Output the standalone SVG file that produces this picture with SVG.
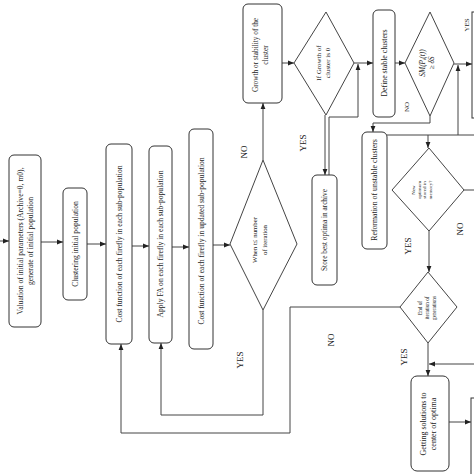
<svg xmlns="http://www.w3.org/2000/svg" width="474" height="474" viewBox="0 0 474 474">
<defs>
<marker id="ah" viewBox="0 0 10 10" refX="10" refY="5" markerWidth="6" markerHeight="6" markerUnits="userSpaceOnUse" orient="auto"><path d="M0,1 L10,5 L0,9 z" fill="#222"/></marker>
<style>
.box{fill:#fff;stroke:#333;stroke-width:1}
.dia{fill:#fff;stroke:#444;stroke-width:1}
.ln{fill:none;stroke:#444;stroke-width:1}
.ar{fill:none;stroke:#444;stroke-width:1;marker-end:url(#ah)}
.t{font-family:"Liberation Serif","Times New Roman",serif;fill:#222;text-anchor:middle}
.lbl{font-family:"Liberation Serif","Times New Roman",serif;fill:#222;text-anchor:middle;font-size:9px}
</style>
</defs>
<rect width="474" height="474" fill="#fff"/>

<g id="connectors">
<line class="ar" x1="0" y1="241" x2="9" y2="241"/>
<line class="ar" x1="41" y1="242" x2="63" y2="242"/>
<line class="ar" x1="87" y1="244" x2="106" y2="244"/>
<line class="ar" x1="132" y1="246" x2="149" y2="246"/>
<line class="ar" x1="172" y1="247" x2="189" y2="247"/>
<line class="ar" x1="213" y1="245" x2="230" y2="245"/>
<line class="ar" x1="263" y1="160" x2="263" y2="103"/>
<line class="ar" x1="282" y1="63" x2="294" y2="63"/>
<line class="ar" x1="325" y1="115" x2="325" y2="175"/>
<polyline class="ar" points="329,175 329,117 358,117 358,64"/>
<line class="ar" x1="354" y1="63" x2="373" y2="63"/>
<line class="ar" x1="395" y1="63" x2="405" y2="63"/>
<line class="ar" x1="454" y1="64" x2="472" y2="64"/>
<polyline class="ar" points="430,116 430,123 373,123 373,132"/>
<line class="ln" x1="387" y1="135" x2="474" y2="135"/>
<line class="ar" x1="428" y1="135" x2="428" y2="148"/>
<line class="ar" x1="458" y1="135" x2="458" y2="65"/>
<line class="ln" x1="464" y1="190" x2="474" y2="190"/>
<line class="ar" x1="429" y1="231" x2="429" y2="272"/>
<polyline class="ar" points="400,307 290,307 290,433 121,433 121,344"/>
<polyline class="ar" points="263,310 263,415 161,415 161,343"/>
<line class="ar" x1="428" y1="343" x2="428" y2="376"/>
<line class="ar" x1="474" y1="364" x2="429" y2="364"/>
<line class="ar" x1="449" y1="422" x2="471" y2="422"/>
</g>

<g id="n-valuation">
<rect class="box" x="9" y="155" width="32" height="172" rx="5"/>
<text class="t" font-size="7.6" transform="translate(25,241) rotate(-90)"><tspan x="0" y="-2.5">Valuation of initial parameters (Archive=0, m0),</tspan><tspan x="0" y="7.5">generate of  initial population</tspan></text>
</g>
<g id="n-clustering">
<rect class="box" x="63" y="188" width="24" height="112" rx="5"/>
<text class="t" font-size="7.6" transform="translate(75,244) rotate(-90)" y="2.7">Clustering initial population</text>
</g>
<g id="n-cost1">
<rect class="box" x="106" y="144" width="26" height="200" rx="5"/>
<text class="t" font-size="7.6" transform="translate(119,244) rotate(-90)" y="2.7">Cost function of each firefly in each sub-population</text>
</g>
<g id="n-apply">
<rect class="box" x="149" y="146" width="23" height="197" rx="5"/>
<text class="t" font-size="7.6" transform="translate(160.5,244) rotate(-90)" y="2.7">Apply FA on each firefly in each sub-population</text>
</g>
<g id="n-cost2">
<rect class="box" x="189" y="129" width="24" height="220" rx="5"/>
<text class="t" font-size="7.6" transform="translate(201,241) rotate(-90)" y="2.7">Cost function of each firefly in updated sub-population</text>
</g>
<g id="n-when">
<polygon class="dia" points="263,160 297,244 263,310 230,244"/>
<text class="t" font-size="6.8" transform="translate(260,240) rotate(-90)"><tspan x="0" y="-3">When t≤ number</tspan><tspan x="0" y="6.5">of iteration</tspan></text>
</g>
<g id="n-growth">
<rect class="box" x="243" y="4" width="39" height="99" rx="5"/>
<text class="t" font-size="7.3" transform="translate(261,55) rotate(-90)"><tspan x="0" y="-3">Growth or stability of the</tspan><tspan x="0" y="7">cluster</tspan></text>
</g>
<g id="n-ifgrowth">
<polygon class="dia" points="326,12 354,63 326,115 294,63"/>
<text class="t" font-size="7" transform="translate(323,63) rotate(-90)"><tspan x="0" y="-2.5">If Growth of</tspan><tspan x="0" y="7">cluster is 0</tspan></text>
</g>
<g id="n-store">
<rect class="box" x="312" y="175" width="25" height="110" rx="5"/>
<text class="t" font-size="7.3" transform="translate(324.5,230) rotate(-90)" y="2.6">Store best optima in archive</text>
</g>
<g id="n-define">
<rect class="box" x="373" y="10" width="22" height="107" rx="5"/>
<text class="t" font-size="7.8" transform="translate(384,63) rotate(-90)" y="2.8">Define stable clusters</text>
</g>
<g id="n-sm">
<polygon class="dia" points="430,12 454,63 430,116 405,63"/>
<text class="t" font-size="7.4" font-style="italic" transform="translate(427,63) rotate(-90)"><tspan x="0" y="-2">SM(Pᵢ(t))</tspan><tspan x="0" y="7">≥ δS</tspan></text>
</g>
<g id="n-right-top">
<rect class="box" x="472" y="12" width="20" height="106"/>
</g>
<g id="n-reform">
<rect class="box" x="362" y="132" width="25" height="117" rx="5"/>
<text class="t" font-size="7.8" transform="translate(374.5,190) rotate(-90)" y="2.8">Reformation of unstable clusters</text>
</g>
<g id="n-newopt">
<polygon class="dia" points="429,148 464,190 429,231 392,190"/>
<text class="t" font-size="5" transform="translate(421,190) rotate(-90)"><tspan x="0" y="-6">New</tspan><tspan x="0" y="-0.5">optimum</tspan><tspan x="0" y="5">stored in</tspan><tspan x="0" y="10.5">memory?</tspan></text>
</g>
<g id="n-end">
<polygon class="dia" points="428,272 457,307 428,343 400,307"/>
<text class="t" font-size="5.2" transform="translate(427,308) rotate(-90)"><tspan x="0" y="-5.5">End of</tspan><tspan x="0" y="1.8">iteration of</tspan><tspan x="0" y="9">generations</tspan></text>
</g>
<g id="n-getting">
<rect class="box" x="411" y="376" width="38" height="95" rx="6"/>
<text class="t" font-size="8" transform="translate(428,424) rotate(-90)"><tspan x="0" y="-2">Getting solutions to</tspan><tspan x="0" y="8">center of optima</tspan></text>
</g>
<g id="n-right-bottom">
<rect class="box" x="471" y="398" width="20" height="100"/>
</g>

<g id="labels">
<text class="lbl" transform="translate(247,152) rotate(-90)">NO</text>
<text class="lbl" transform="translate(306,143) rotate(-90)">YES</text>
<text class="lbl" font-size="7" style="font-size:7px" transform="translate(409,107) rotate(-90)">NO</text>
<text class="lbl" style="font-size:7px" transform="translate(469,25) rotate(-90)">YES</text>
<text class="lbl" transform="translate(463,229) rotate(-90)">NO</text>
<text class="lbl" transform="translate(411,246) rotate(-90)">YES</text>
<text class="lbl" transform="translate(334,340) rotate(-90)">NO</text>
<text class="lbl" transform="translate(243,360) rotate(-90)">YES</text>
<text class="lbl" transform="translate(407,357) rotate(-90)">YES</text>
</g>
</svg>
